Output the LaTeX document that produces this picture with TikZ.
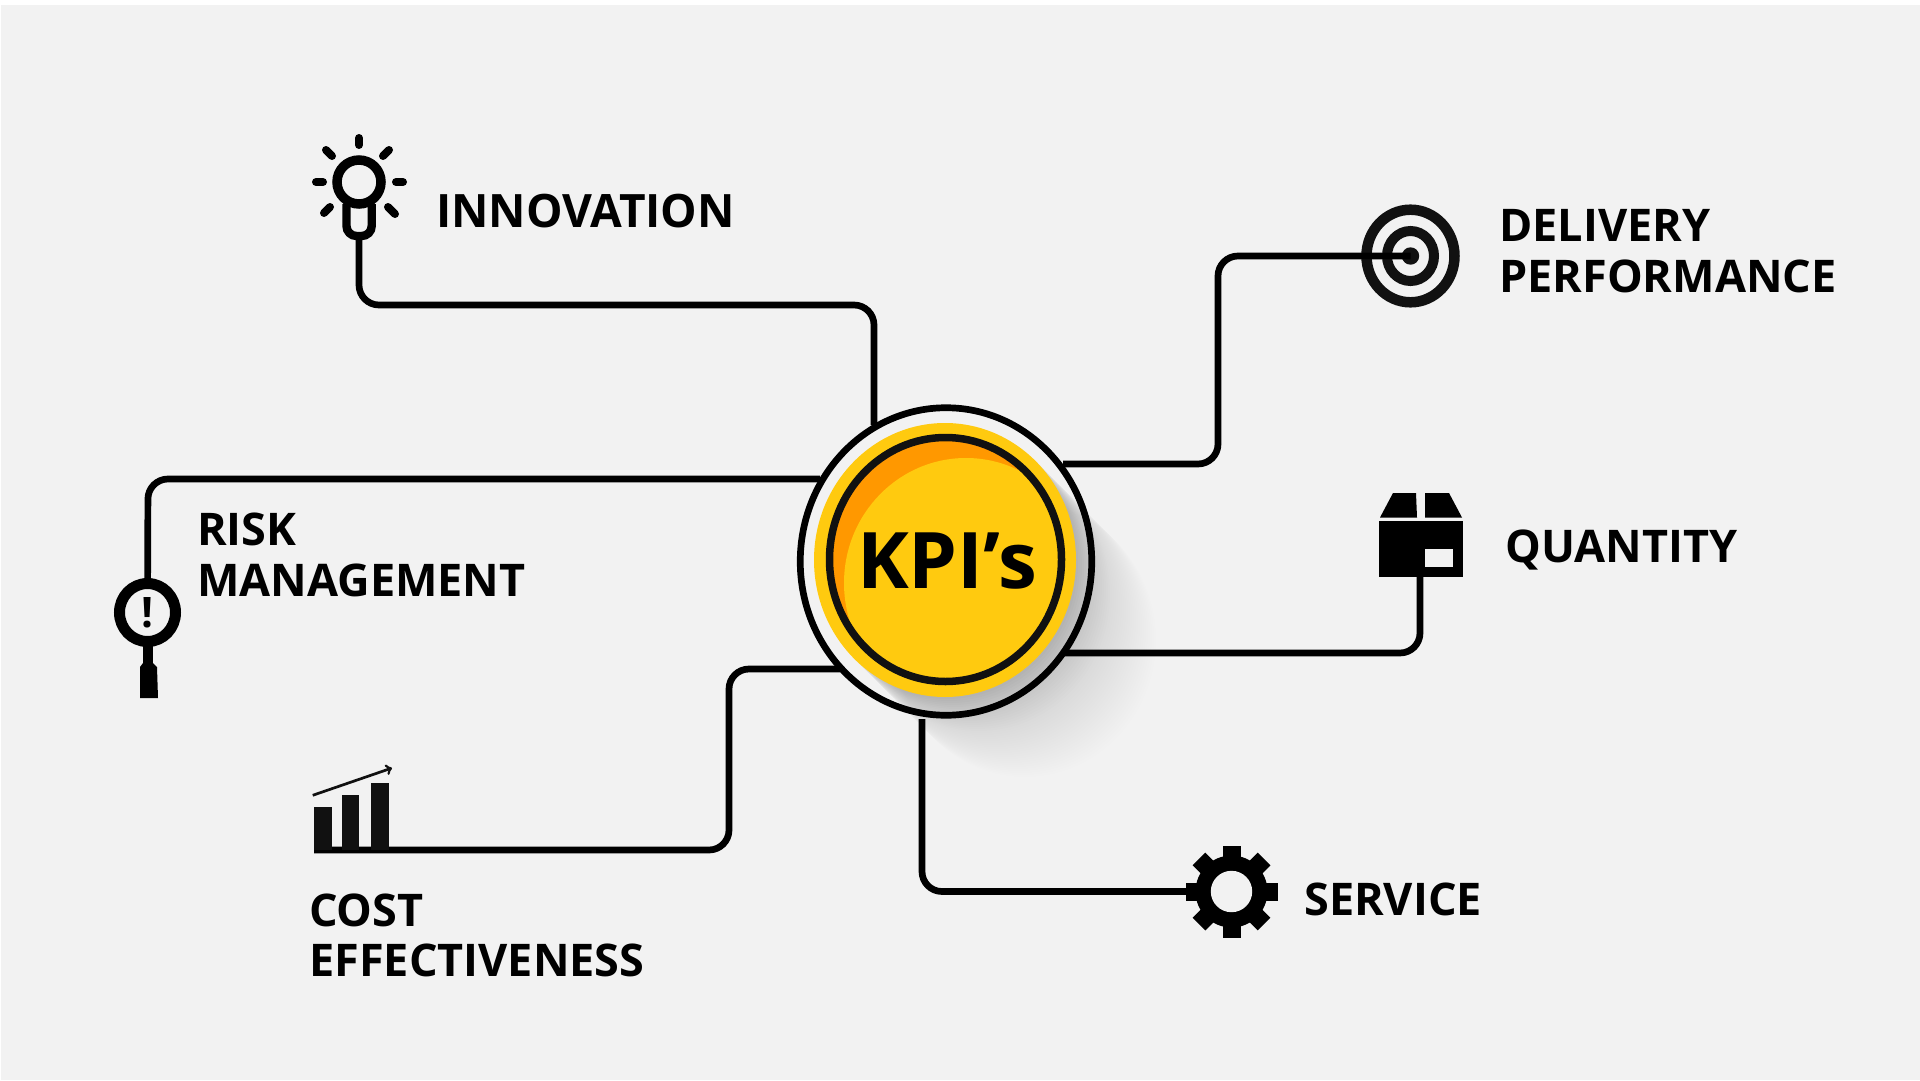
\documentclass[tikz,border=0pt]{standalone}
\usepackage{fontspec}
\setmainfont{Open Sans}
\usetikzlibrary{shapes.geometric}
\definecolor{pagegray}{HTML}{F2F2F2}
\definecolor{kpiyellow}{HTML}{FFCA0F}
\definecolor{kpiorange}{HTML}{FF9800}
\definecolor{iconblack}{HTML}{111111}
\tikzset{
  link/.style={draw=black,line width=6.7pt,rounded corners=20pt},
  label/.style={anchor=west,inner sep=0pt,align=left,font=\fontsize{45}{50.5}\selectfont\bfseries,text=black},
  ray/.style={draw=black,line width=8pt,line cap=round},
  bar/.style={fill=iconblack}
}
\begin{document}
\begin{tikzpicture}[x=1pt,y=-1pt]
      \useasboundingbox (0,0) rectangle (1920,1081);
      \fill[white] (0,0) rectangle (1920,1081);
      \fill[pagegray] (1,5) rectangle (1920,1080);
      % long shadow
      \begin{scope}
        \foreach \s [evaluate=\s as \o using {0.0135*exp(-\s/42)}] in {94,92,...,2}
          \fill[black,opacity=\o] (945+\s,560+\s) ellipse [x radius=131,y radius=137];
      \end{scope}
      \draw
        (946,561.5) node[ellipse,draw=black,line width=6.7pt,minimum width=291.5pt,minimum height=307.5pt,inner sep=0pt] (kpi){}
        (945,560) node[ellipse,fill=kpiyellow,minimum width=262pt,minimum height=274pt,inner sep=0pt] (disc){}
        (359,236) coordinate (bulb)
        (147.5,612.5) coordinate (lens)
        (314,850) coordinate (chart)
        (1231.5,891.5) coordinate (gear)
        (1420,577) coordinate (box)
        (1410.5,256) coordinate (target)
        (874,425) coordinate (kpiA)
        (820,479) coordinate (kpiB)
        (840,669) coordinate (kpiC)
        (922,719) coordinate (kpiD)
        (1065,653) coordinate (kpiE)
        (1063,464) coordinate (kpiF);
      \begin{scope}
        \clip (945.5,559.5) ellipse [x radius=116,y radius=122];
        \fill[kpiorange] (945.5,559.5) ellipse [x radius=116,y radius=122];
        \fill[kpiyellow] (966,583) ellipse [x radius=122,y radius=125];
      \end{scope}
      \draw[iconblack,line width=7.5pt] (945.5,559.5) ellipse [x radius=116,y radius=122];
      \node[inner sep=0pt,font=\fontsize{78}{78}\selectfont\bfseries] (title) at (947,561) {KPI’s};
      % target
      \draw[iconblack,line width=10.5pt] (target) ellipse [x radius=44,y radius=46.3];
      \draw[iconblack,line width=10pt] (target) ellipse [x radius=23.5,y radius=25];
      \fill[iconblack] (target) circle (8.7);
      % connectors
      \draw[link] (bulb) -- (359,305) -- (874,305) -- (kpiA);
      \draw[link] (kpiB) -- (148,479) -- (lens);
      \draw[link] (chart) -- (729,850) -- (729,669) -- (kpiC);
      \draw[link] (kpiD) -- (922,891.5) -- (gear);
      \draw[link] (kpiE) -- (1420,653) -- (box);
      \draw[link] (kpiF) -- (1218,464) -- (1218,256) -- (target);
      % bulb
      \draw[black,line width=9.5pt] (359,182) circle (22);
      \draw[black,line width=8.4pt,rounded corners=10pt] (346.5,204) -- (346.5,236) -- (371.7,236) -- (371.7,204);
      \draw[ray] (359,138) -- (359,145);
      \draw[ray] (316,182) -- (323,182);
      \draw[ray] (396,182) -- (403,182);
      \draw[ray] (326,150) -- (332,156);
      \draw[ray] (389,150) -- (383,156);
      \draw[ray] (324,213) -- (330,207);
      \draw[ray] (388,207) -- (395,214);
      % lens
      \fill[black] (143,640) rectangle (153,665);
      \fill[black] (143,663) -- (153,663) -- (157,667) -- (158,698) -- (140,698) -- (140,667) -- cycle;
      \draw[black,fill=pagegray,line width=11pt] (lens) ellipse [x radius=28,y radius=29];
      \node[inner sep=0pt,font=\fontsize{42}{42}\selectfont\bfseries] (alert) at (lens) {!};
      % chart
      \fill[bar] (314.3,807.3) rectangle (332.3,850);
      \fill[bar] (341.7,795.3) rectangle (359.3,850);
      \fill[bar] (370.7,783.3) rectangle (388.7,850);
      \draw[iconblack,line width=2.7pt,->] (312.7,795.3) -- (392,768);
      % gear
      \fill[black] (gear) circle (36);
      \foreach \a in {0,45,...,315}
        \fill[black,rotate around={\a:(gear)}] (1222.5,845.5) rectangle (1240.5,870);
      \fill[pagegray] (gear) circle (20.7);
      % box
      \fill[black] (1379,521) rectangle (1463,577);
      \fill[black] (1393,493) -- (1416,493) -- (1417,517.5) -- (1380,517.5) -- cycle;
      \fill[black] (1425,493) -- (1449,493) -- (1462,517.5) -- (1425,517.5) -- cycle;
      \fill[pagegray] (1425,549) rectangle (1453,567);
      % labels
      \node[label,font=\fontsize{46}{50.5}\selectfont\bfseries] (innovation) at (436,211) {INNOVATION};
      \node[label] (delivery) at (1499,251) {DELIVERY\\PERFORMANCE};
      \node[label] (quantity) at (1505,550) {QUANTITY};
      \node[label] (service) at (1304,899) {SERVICE};
      \node[label] (cost) at (309,935.5) {COST\\EFFECTIVENESS};
      \node[label] (risk) at (197,555) {RISK\\MANAGEMENT};
    \end{tikzpicture}
\end{document}
